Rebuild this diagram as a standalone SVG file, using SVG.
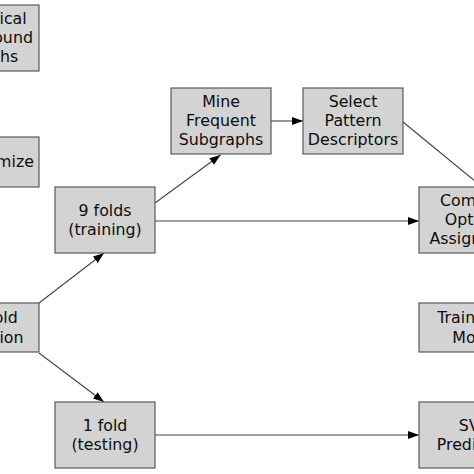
<svg xmlns="http://www.w3.org/2000/svg" width="474" height="474" viewBox="0 0 474 474">
<style>
.box{fill:#d3d3d3;stroke:#5a5a5a;stroke-width:1.2}
.lbl{font-family:"DejaVu Sans",sans-serif;font-size:15.8px;fill:#0d0d0d;text-anchor:middle}
.edge{fill:none;stroke:#444;stroke-width:1.1}
</style>
<defs>
<marker id="arr" markerUnits="userSpaceOnUse" markerWidth="12" markerHeight="9" refX="11" refY="4" orient="auto">
<path d="M0,0 L11,4 L0,8 z" fill="#000"/>
</marker>
</defs>
<rect width="474" height="474" fill="#fff"/>
<g id="connectors">
<path class="edge" d="M39,303 L104,253" marker-end="url(#arr)"/>
<path class="edge" d="M39,353 L104,402" marker-end="url(#arr)"/>
<path class="edge" d="M155,203 L220.5,155" marker-end="url(#arr)"/>
<path class="edge" d="M155,221 L419,221" marker-end="url(#arr)"/>
<path class="edge" d="M271,121 L303,121" marker-end="url(#arr)"/>
<path class="edge" d="M403,122 L486,190" marker-end="url(#arr)"/>
<path class="edge" d="M155,435 L419,435" marker-end="url(#arr)"/>
</g>
<g id="graphs">
<rect class="box" x="-62" y="5" width="101" height="66"/>
<text class="lbl" x="-10" y="24">Chemical</text>
<text class="lbl" x="-10" y="43">Compound</text>
<text class="lbl" x="-10" y="62">Graphs</text>
</g>
<g id="randomize">
<rect class="box" x="-62" y="137" width="101" height="50"/>
<text class="lbl" x="-10" y="167">Randomize</text>
</g>
<g id="partition">
<rect class="box" x="-62" y="303" width="101" height="49"/>
<text class="lbl" x="-10" y="323">10-fold</text>
<text class="lbl" x="-10" y="342.5">partition</text>
</g>
<g id="nine">
<rect class="box" x="55" y="187" width="100" height="66"/>
<text class="lbl" x="105" y="215.5">9 folds</text>
<text class="lbl" x="105" y="235">(training)</text>
</g>
<g id="one">
<rect class="box" x="55" y="402" width="100" height="66"/>
<text class="lbl" x="105" y="430.5">1 fold</text>
<text class="lbl" x="105" y="450">(testing)</text>
</g>
<g id="mine">
<rect class="box" x="171" y="88" width="100" height="66"/>
<text class="lbl" x="221" y="107">Mine</text>
<text class="lbl" x="221" y="126">Frequent</text>
<text class="lbl" x="221" y="145">Subgraphs</text>
</g>
<g id="select">
<rect class="box" x="303" y="88" width="100" height="66"/>
<text class="lbl" x="353" y="107">Select</text>
<text class="lbl" x="353" y="126">Pattern</text>
<text class="lbl" x="353" y="145">Descriptors</text>
</g>
<g id="compute">
<rect class="box" x="419" y="187" width="114" height="66"/>
<text class="lbl" x="476" y="206">Compute</text>
<text class="lbl" x="476" y="225">Optimal</text>
<text class="lbl" x="476" y="244">Assignment</text>
</g>
<g id="train">
<rect class="box" x="419" y="303" width="114" height="49"/>
<text class="lbl" x="476" y="323">Train SVM</text>
<text class="lbl" x="476" y="342.5">Model</text>
</g>
<g id="svm">
<rect class="box" x="419" y="402" width="114" height="66"/>
<text class="lbl" x="476" y="430.5">SVM</text>
<text class="lbl" x="476" y="450">Prediction</text>
</g>
</svg>
